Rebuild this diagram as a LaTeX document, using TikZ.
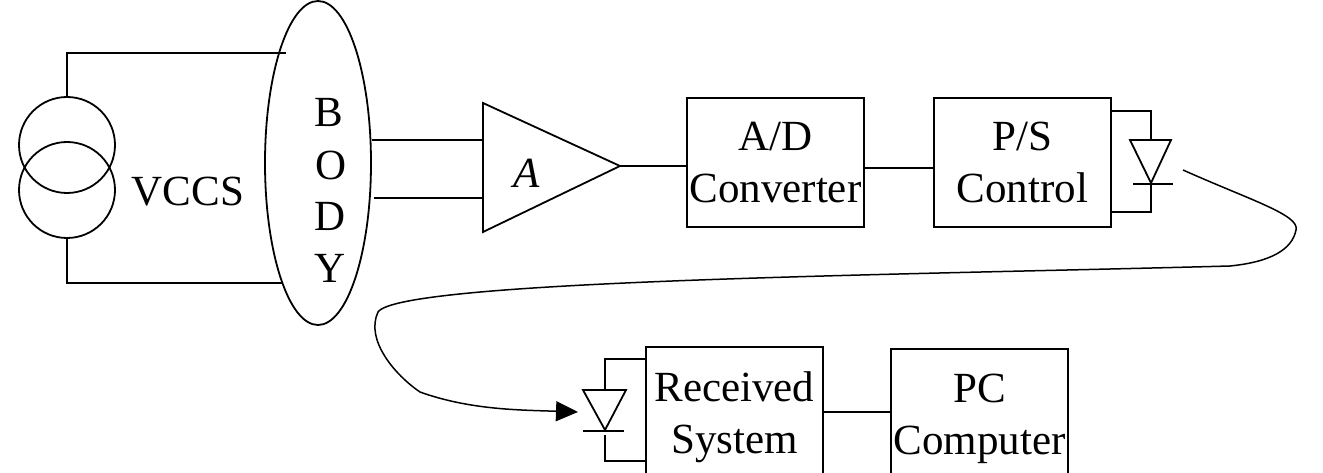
\documentclass[tikz,border=0pt]{standalone}
\usepackage{fontspec}
\setmainfont{Liberation Serif}
\usetikzlibrary{shapes.geometric,arrows.meta}
\begin{document}
\begin{tikzpicture}[x=1pt,y=-1pt,line width=1.8pt,
  lbl/.style={font=\fontsize{43}{48}\selectfont,inner sep=0pt},
  box/.style={draw,minimum width=177pt,minimum height=129pt,anchor=north west,inner sep=0pt,align=center,font=\fontsize{43}{52}\selectfont}]
\useasboundingbox (0,0) rectangle (1323,473);
% source
\draw (67,145) circle (48);
\draw (67,190) circle (48);
\coordinate (st) at (67,97); \coordinate (sb) at (67,238);
\coordinate (t1) at (67,53); \coordinate (t2) at (286,53);
\coordinate (b1) at (67,283); \coordinate (b2) at (283,283);
\draw (st) -- (t1) -- (t2);
\draw (sb) -- (b1) -- (b2);
\node[lbl] (vccs) at (188,192) {VCCS};
% body
\node[draw,ellipse,minimum width=106pt,minimum height=324pt,inner sep=0pt] (body) at (318,163) {};
\node[lbl] (lB) at (329,112) {B};
\node[lbl] (lO) at (331,165) {O};
\node[lbl] (lD) at (330,216) {D};
\node[lbl] (lY) at (330,268) {Y};
% amplifier
\coordinate (a1) at (483,103); \coordinate (a2) at (483,232); \coordinate (a3) at (620,166);
\draw (a1) -- (a2) -- (a3) -- cycle;
\node[lbl,font=\fontsize{43}{48}\selectfont\itshape] (A) at (527,173) {A};
\coordinate (w1) at (372,140); \coordinate (w1e) at (483,140);
\coordinate (w2) at (374,198); \coordinate (w2e) at (483,198);
\draw (w1) -- (w1e); \draw (w2) -- (w2e);
% boxes
\node[box] (ad) at (686,97) {A/D\\Converter};
\node[box] (ps) at (933,97) {P/S\\Control};
\draw (a3) -- (ad.west |- a3);
\draw (ad.east |- 0,168) -- (ps.west |- 0,168);
% tx diode
\coordinate (d1) at (1110,111); \coordinate (d2) at (1151,111); \coordinate (d3) at (1151,140);
\draw (d1) -- (d2) -- (d3);
\draw (1130,140) -- (1171,140) -- (1151,183) -- cycle;
\draw (1133,184) -- (1173,184);
\coordinate (d4) at (1151,184); \coordinate (d5) at (1151,212); \coordinate (d6) at (1110,212);
\draw (d4) -- (d5) -- (d6);
% link
\coordinate (c0) at (1183,170);
\coordinate (c1) at (1296,230);
\coordinate (c2) at (1230,266);
\coordinate (c3) at (378,312);
\coordinate (c4) at (420,392);
\coordinate (c5) at (578,412);
\draw[line width=1.5pt,-{Triangle[length=22pt,width=20pt]}]
  (c0) .. controls (1250,200) and (1300,215) .. (c1)
  .. controls (1292,250) and (1270,262) .. (c2)
  .. controls (900,275) and (400,280) .. (c3)
  .. controls (365,340) and (395,375) .. (c4)
  .. controls (470,410) and (520,410) .. (c5);
% rx diode
\draw (583,390) -- (626,390) -- (605,430) -- cycle;
\draw (583,431) -- (624,431);
\node[box,minimum height=140pt] (rx) at (645,346) {Received\\System};
\node[box,minimum height=140pt] (pc) at (890,348) {PC\\Computer};
\coordinate (r1) at (605,390); \coordinate (r2) at (605,359);
\coordinate (r3) at (605,435); \coordinate (r4) at (605,461);
\draw (r1) -- (r2) -- (rx.west |- r2);
\draw (r3) -- (r4) -- (rx.west |- r4);
\draw (rx.east |- 0,412) -- (pc.west |- 0,412);
\end{tikzpicture}
\end{document}
